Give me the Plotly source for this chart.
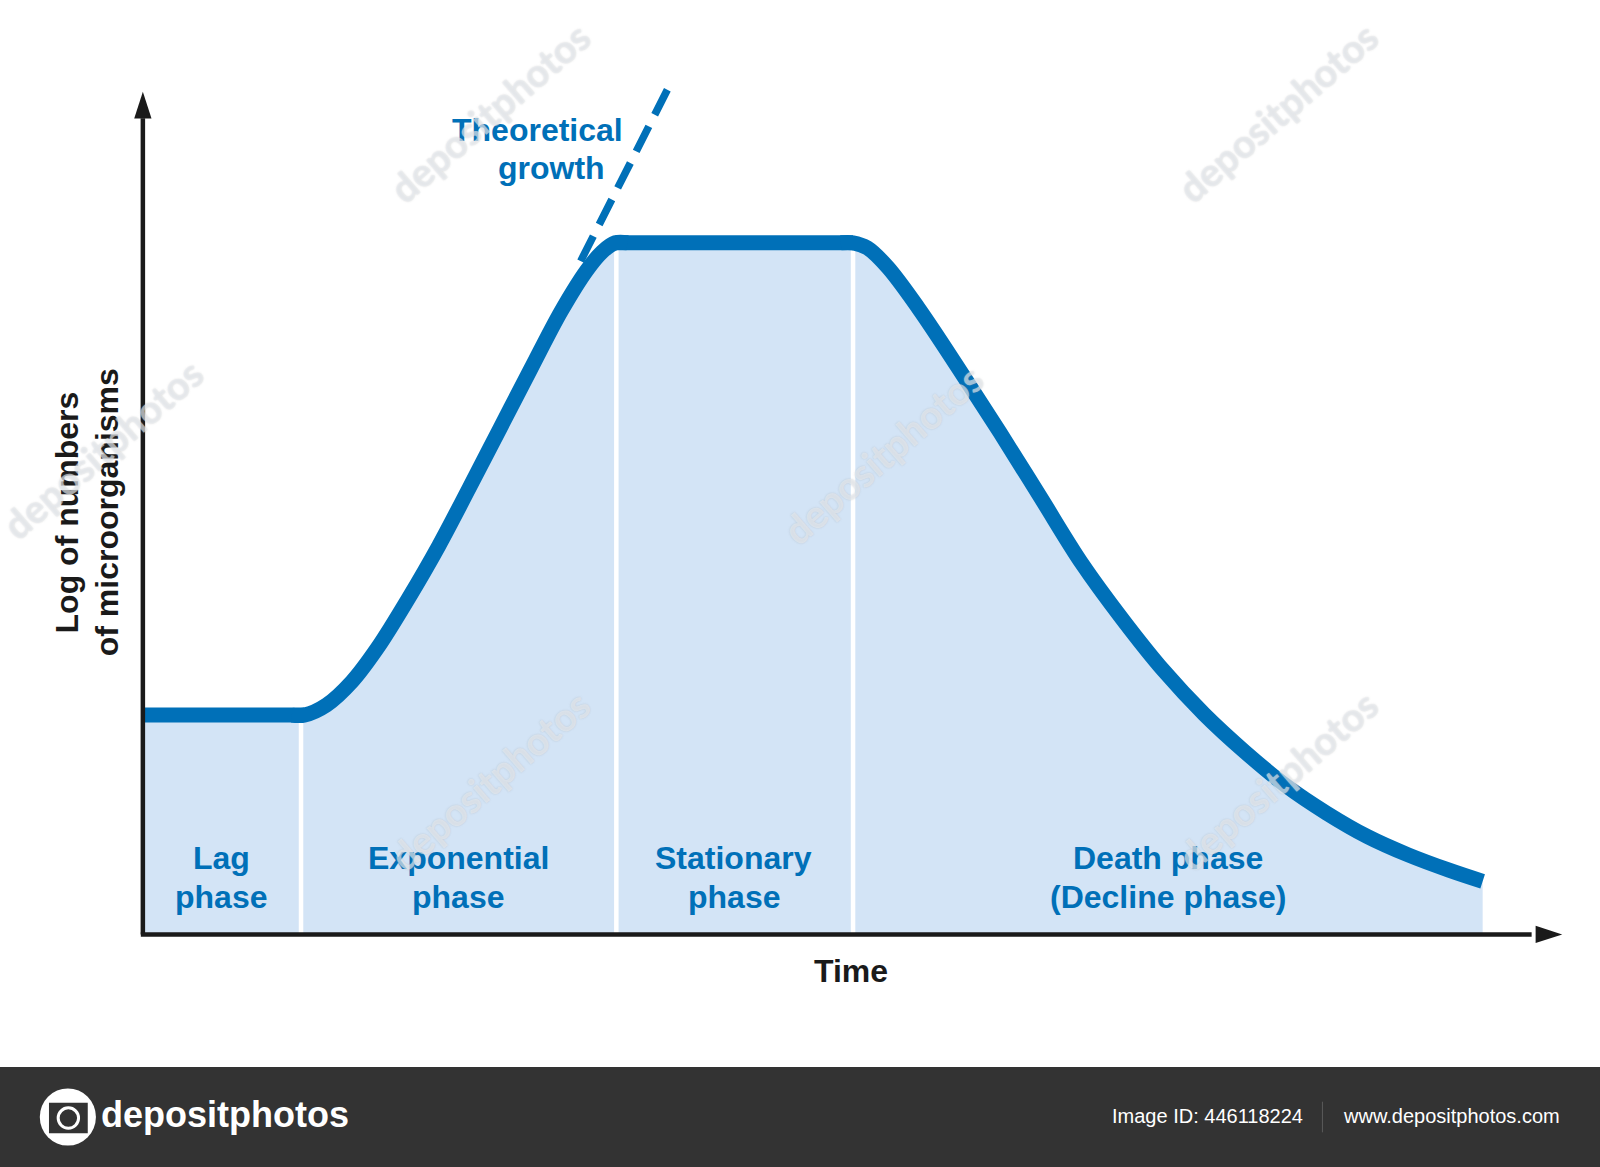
import plotly.graph_objects as go

# units: time = px right of the y axis, level = px above the x axis (in 1568 wide picture)
lag_time = [0, 157]
lag_level = [215, 215]
rise_time = [157, 179, 204, 229, 259, 289, 319, 349, 379, 409, 434, 449, 462]
rise_level = [215, 225, 248, 281, 329, 381, 438, 496, 554, 611, 651, 669, 678]
flat_time = [462, 695]
flat_level = [678, 678]
fall_time = [695, 709, 729, 759, 799, 839, 879, 919, 959, 999, 1039, 1079, 1119,
             1159, 1199, 1239, 1279, 1312]
fall_level = [678, 673, 654, 614, 554, 492, 428, 364, 309, 259, 216, 179, 146,
              119, 96, 78, 63, 52]

divider_time = [154, 463, 695]
divider_level = [215, 678, 678]

theory_time = [513, 425]
theory_level = [828, 654]

phase_line1 = ["Lag", "Exponential", "Stationary", "Death phase"]
phase_line2 = ["phase", "phase", "phase", "(Decline phase)"]
phase_time = [76, 308, 578, 1004]

theory_labels = ["Theoretical", "growth"]
theory_label_time = [386, 399]
theory_label_level = [789, 751]

ylabel_lines = ["Log of numbers", "of microorganisms"]
ylabel_time = [-75, -36]

mark_time = [339, 1111, 724, 339, 1111, -41]
mark_level = [806, 806, 471, 151, 151, 476]

BLUE = "#0070b8"
FILL = "#d3e4f6"
BLACK = "#1a1a1a"
FONT = "Liberation Sans"

all_time = lag_time + rise_time[1:] + flat_time[1:] + fall_time[1:]
all_level = lag_level + rise_level[1:] + flat_level[1:] + fall_level[1:]

fig = go.Figure()

fig.add_trace(go.Scatter(x=all_time, y=all_level, mode="none", fill="tozeroy",
                         fillcolor=FILL))

for t, lv in zip(divider_time, divider_level):
    fig.add_trace(go.Scatter(x=[t, t], y=[0, lv], mode="lines",
                             line=dict(color="white", width=4.5)))

fig.add_trace(go.Scatter(x=theory_time, y=theory_level, mode="lines",
                         line=dict(color=BLUE, width=7.5, dash="28px,13px")))

# the flats are kept apart from the bends so the spline can't wobble on them,
# each bend gets a bit of the flat on both ends so it leaves them level
fig.add_trace(go.Scatter(x=lag_time, y=lag_level, mode="lines", line=dict(color=BLUE, width=15)))
fig.add_trace(go.Scatter(x=flat_time, y=flat_level, mode="lines", line=dict(color=BLUE, width=15)))
fig.add_trace(go.Scatter(x=[lag_time[1] - 12] + rise_time + [flat_time[0] + 12],
                         y=[lag_level[1]] + rise_level + [flat_level[0]], mode="lines",
                         line=dict(color=BLUE, width=15, shape="spline", smoothing=1)))
fig.add_trace(go.Scatter(x=[flat_time[1] - 12] + fall_time,
                         y=[flat_level[1]] + fall_level, mode="lines",
                         line=dict(color=BLUE, width=15, shape="spline", smoothing=1)))

# axes with arrow heads
fig.add_trace(go.Scatter(x=[-1, -1], y=[0, 800], mode="lines",
                         line=dict(color=BLACK, width=4.5)))
fig.add_trace(go.Scatter(x=[-1], y=[826], mode="markers",
                         marker=dict(symbol="arrow", size=28, color=BLACK, angle=0,
                                     line_width=0)))
fig.add_trace(go.Scatter(x=[-3, 1360], y=[0, 0], mode="lines",
                         line=dict(color=BLACK, width=4.5)))
fig.add_trace(go.Scatter(x=[1390], y=[0], mode="markers",
                         marker=dict(symbol="arrow", size=28, color=BLACK, angle=90,
                                     line_width=0)))

for a, b, t in zip(phase_line1, phase_line2, phase_time):
    fig.add_annotation(x=t, y=75, text=f"<b>{a}</b>", showarrow=False,
                       font=dict(family=FONT, size=32, color=BLUE))
    fig.add_annotation(x=t, y=37, text=f"<b>{b}</b>", showarrow=False,
                       font=dict(family=FONT, size=32, color=BLUE))
for text, t, lv in zip(theory_labels, theory_label_time, theory_label_level):
    fig.add_annotation(x=t, y=lv, text=f"<b>{text}</b>", showarrow=False,
                       font=dict(family=FONT, size=32, color=BLUE))

fig.add_annotation(x=693, y=-36, text="<b>Time</b>", showarrow=False,
                   font=dict(family=FONT, size=32, color=BLACK))
for text, t in zip(ylabel_lines, ylabel_time):
    fig.add_annotation(x=t, y=414, text=f"<b>{text}</b>", showarrow=False, textangle=-90,
                       font=dict(family=FONT, size=32, color=BLACK))

for t, lv in zip(mark_time, mark_level):
    fig.add_annotation(x=t, y=lv, text="<b>depositphotos</b>", showarrow=False, textangle=-41,
                       font=dict(family="Lato", size=39, color="rgba(236,240,245,0.6)",
                                 shadow="0 0 2px rgba(150,150,150,0.6)"))

# footer bar
fig.add_shape(type="rect", x0=-141, x1=1427, y0=-228, y1=-130, layer="above",
              fillcolor="#333333", line_width=0)
fig.add_shape(type="line", x0=1155, x1=1155, y0=-194, y1=-164, layer="above",
              line=dict(color="#5a5a5a", width=1))
fig.add_shape(type="circle", x0=-102, x1=-47, y0=-207, y1=-151, layer="above",
              fillcolor="white", line_width=0)
fig.add_shape(type="rect", x0=-93, x1=-55, y0=-195, y1=-165, layer="above",
              fillcolor="#333333", line_width=0)
fig.add_shape(type="circle", x0=-84, x1=-64, y0=-190, y1=-170, layer="above",
              fillcolor="#333333", line=dict(color="white", width=3))

fig.add_annotation(x=-44, y=-177, text="<b>depositphotos</b>", showarrow=False, xanchor="left",
                   font=dict(family=FONT, size=36, color="white"))
fig.add_annotation(x=1138, y=-178, text="Image ID: 446118224", showarrow=False, xanchor="right",
                   font=dict(family=FONT, size=20, color="white"))
fig.add_annotation(x=1390, y=-178, text="www.depositphotos.com", showarrow=False, xanchor="right",
                   font=dict(family=FONT, size=20, color="white"))

fig.update_layout(
    width=1600, height=1167,
    margin=dict(l=0, r=0, t=0, b=0),
    plot_bgcolor="white", paper_bgcolor="white",
    showlegend=False,
    font=dict(family=FONT),
    xaxis=dict(range=[-141, 1427], visible=False),
    yaxis=dict(range=[-228, 916], visible=False),
)

fig.write_html("out.html", config={"displayModeBar": False},
               post_script="document.body.style.margin='0';")
